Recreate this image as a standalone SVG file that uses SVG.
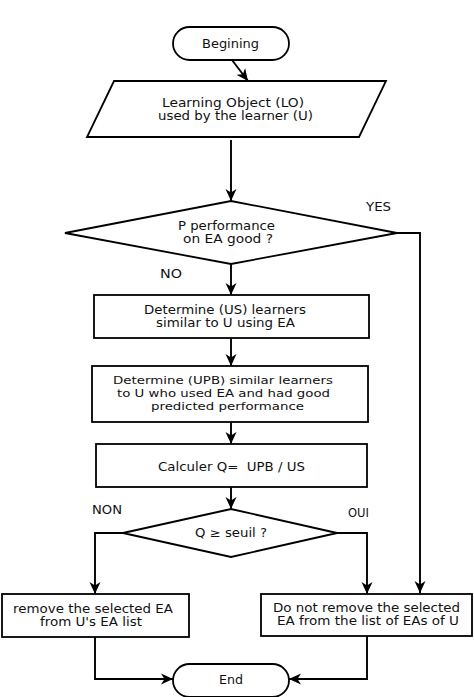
<svg xmlns="http://www.w3.org/2000/svg" width="474" height="697" viewBox="0 0 474 697">
<style>
.s{fill:#fff;stroke:#000;stroke-width:1.8}
.c{fill:none;stroke:#000;stroke-width:1.9}
text{font-family:"DejaVu Sans",Verdana,sans-serif;font-size:11.5px;fill:#111}
.t{font-size:10.5px}
</style>
<defs>
<marker id="ah" viewBox="0 0 12 12" refX="12" refY="6" markerWidth="12" markerHeight="12" markerUnits="userSpaceOnUse" orient="auto">
<path d="M0,0.5 L12,6 L0,11.5 L3.5,6 z" fill="#000"/>
</marker>
</defs>
<rect width="474" height="697" fill="#fff"/>
<g id="connectors">
<path class="c" d="M232,60 L248,81" marker-end="url(#ah)"/>
<path class="c" d="M231,140 L231,201" marker-end="url(#ah)"/>
<path class="c" d="M397,233 L420,233 L420,593" marker-end="url(#ah)"/>
<path class="c" d="M231,264 L231,295" marker-end="url(#ah)"/>
<path class="c" d="M231,338 L231,366" marker-end="url(#ah)"/>
<path class="c" d="M231,422 L231,444" marker-end="url(#ah)"/>
<path class="c" d="M231,487 L231,509" marker-end="url(#ah)"/>
<path class="c" d="M123,533 L95,533 L95,594" marker-end="url(#ah)"/>
<path class="c" d="M337,533 L367,533 L367,594" marker-end="url(#ah)"/>
<path class="c" d="M95,637 L95,679 L173,679" marker-end="url(#ah)"/>
<path class="c" d="M367,636 L367,679 L289,679" marker-end="url(#ah)"/>
</g>
<g id="labels">
<text x="366" y="211" textLength="25" lengthAdjust="spacingAndGlyphs">YES</text>
<text x="160" y="278" textLength="22" lengthAdjust="spacingAndGlyphs">NO</text>
<text x="92" y="514" textLength="30" lengthAdjust="spacingAndGlyphs">NON</text>
<text x="348" y="516.5" textLength="21" lengthAdjust="spacingAndGlyphs">OUI</text>
</g>
<g id="begin">
<rect class="s" x="173" y="27" width="116" height="33" rx="16.5"/>
<text x="202" y="48" textLength="57" lengthAdjust="spacingAndGlyphs">Begining</text>
</g>
<g id="input">
<polygon class="s" points="114,81 386,81 359,137 87,137"/>
<text x="162" y="107" textLength="142" lengthAdjust="spacingAndGlyphs">Learning Object (LO)</text>
<text x="158" y="119.5" textLength="155" lengthAdjust="spacingAndGlyphs">used by the learner (U)</text>
</g>
<g id="decision1">
<polygon class="s" points="231,201 397,233 231,264 65,233"/>
<text x="178" y="229.5" textLength="97" lengthAdjust="spacingAndGlyphs">P performance</text>
<text x="183" y="243" textLength="90" lengthAdjust="spacingAndGlyphs">on EA good ?</text>
</g>
<g id="box-us">
<rect class="s" x="94" y="295" width="275" height="43"/>
<text x="144" y="314" textLength="162" lengthAdjust="spacingAndGlyphs">Determine (US) learners</text>
<text x="156" y="326.5" textLength="139" lengthAdjust="spacingAndGlyphs">similar to U using EA</text>
</g>
<g id="box-upb">
<rect class="s" x="92" y="366" width="276" height="56"/>
<text class="t" x="113" y="384" textLength="220" lengthAdjust="spacingAndGlyphs">Determine (UPB) similar learners</text>
<text class="t" x="117" y="397" textLength="213" lengthAdjust="spacingAndGlyphs">to U who used EA and had good</text>
<text class="t" x="151" y="410" textLength="153" lengthAdjust="spacingAndGlyphs">predicted performance</text>
</g>
<g id="box-q">
<rect class="s" x="96" y="444" width="271" height="43"/>
<text x="158" y="470.5" textLength="147" lengthAdjust="spacingAndGlyphs">Calculer Q=&#160; UPB / US</text>
</g>
<g id="decision2">
<polygon class="s" points="231,509 337,533 231,557 123,533"/>
<text x="195" y="536.5" textLength="72" lengthAdjust="spacingAndGlyphs">Q ≥ seuil ?</text>
</g>
<g id="box-remove">
<rect class="s" x="2" y="594" width="187" height="43"/>
<text x="13" y="613" textLength="160" lengthAdjust="spacingAndGlyphs">remove the selected EA</text>
<text x="40" y="625.5" textLength="102" lengthAdjust="spacingAndGlyphs">from U's EA list</text>
</g>
<g id="box-keep">
<rect class="s" x="261" y="594" width="211" height="42"/>
<text x="273" y="611.5" textLength="187" lengthAdjust="spacingAndGlyphs">Do not remove the selected</text>
<text x="277" y="625" textLength="182" lengthAdjust="spacingAndGlyphs">EA from the list of EAs of U</text>
</g>
<g id="end">
<rect class="s" x="173" y="664" width="116" height="33" rx="16.5"/>
<text x="219" y="684" textLength="24" lengthAdjust="spacingAndGlyphs">End</text>
</g>
</svg>
